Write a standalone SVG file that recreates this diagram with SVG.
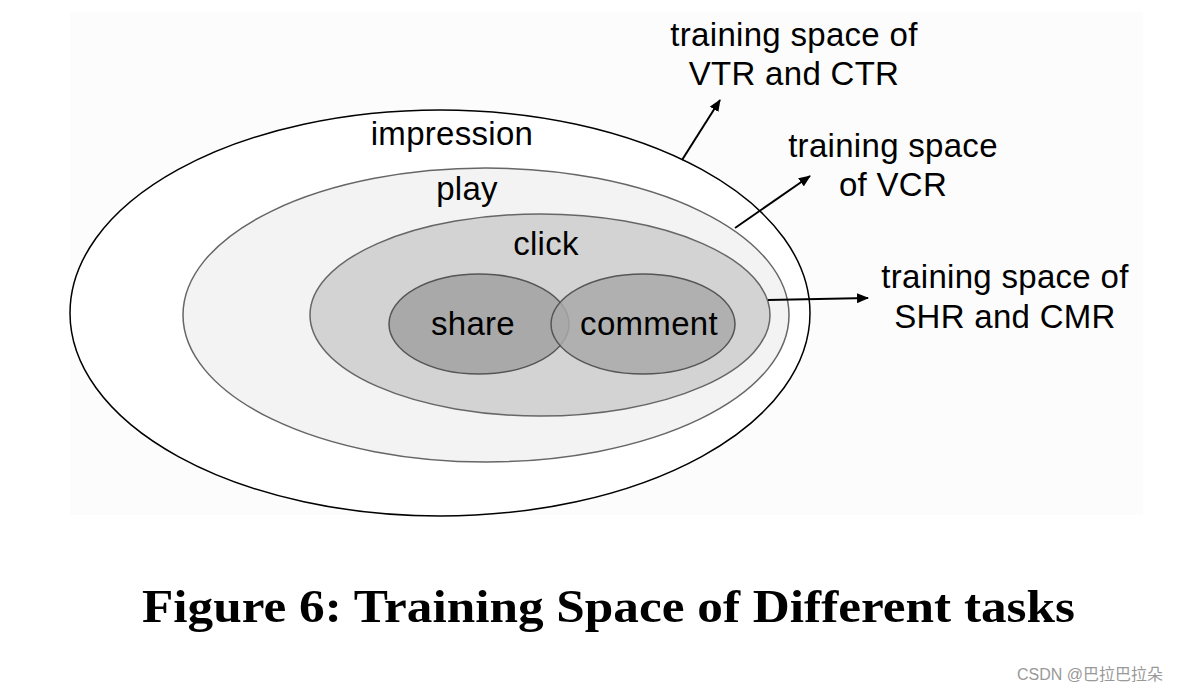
<svg xmlns="http://www.w3.org/2000/svg" width="1178" height="692" viewBox="0 0 1178 692">
<defs>
<marker id="ah" markerWidth="12" markerHeight="10" refX="11" refY="5" orient="auto" markerUnits="userSpaceOnUse"><path d="M0,0 L12,5 L0,10 z" fill="#000"/></marker>
<style>
.t{font-family:"Liberation Sans",Arial,sans-serif;font-size:33px;fill:#000;text-anchor:middle;letter-spacing:0.3px}
.c{stroke:#000;stroke-width:2;marker-end:url(#ah)}
</style>
</defs>
<rect width="1178" height="692" fill="#fff"/>
<rect x="70" y="12" width="1073" height="503" fill="#fcfcfc"/>
<g id="impression"><ellipse cx="440" cy="313" rx="370" ry="203" fill="#fff" stroke="#000" stroke-width="1.5"/><text class="t" x="452" y="145">impression</text></g>
<g id="play"><ellipse cx="486" cy="315" rx="303" ry="147" fill="#f3f3f3" stroke="#666" stroke-width="1.5"/><text class="t" x="467" y="200">play</text></g>
<g id="click"><ellipse cx="540" cy="315" rx="230" ry="101" fill="#d3d3d3" stroke="#666" stroke-width="1.5"/><text class="t" x="546" y="255">click</text></g>
<g id="share"><ellipse cx="479" cy="324" rx="90" ry="50" fill="#a9a9a9" stroke="#555" stroke-width="1.5"/><text class="t" x="473" y="335">share</text></g>
<g id="comment"><ellipse cx="643" cy="324" rx="92" ry="50" fill="#a9a9a9" fill-opacity="0.85" stroke="#555" stroke-width="1.5"/><text class="t" x="649" y="335">comment</text></g>
<g id="connectors">
<line class="c" x1="682" y1="160" x2="720" y2="100"/>
<line class="c" x1="735" y1="228" x2="810" y2="176"/>
<line class="c" x1="768" y1="300" x2="868" y2="298"/>
</g>
<g id="label1"><text class="t" x="794" y="46">training space of</text><text class="t" x="794" y="85">VTR and CTR</text></g>
<g id="label2"><text class="t" x="893" y="157">training space</text><text class="t" x="893" y="196">of VCR</text></g>
<g id="label3"><text class="t" x="1005" y="288">training space of</text><text class="t" x="1005" y="328">SHR and CMR</text></g>
<text x="142" y="622" textLength="933" lengthAdjust="spacingAndGlyphs" font-family="Liberation Serif,serif" font-weight="bold" font-size="46">Figure 6: Training Space of Different tasks</text>
<text x="1163" y="680" font-family="Liberation Sans,Noto Sans CJK SC,sans-serif" font-size="16" fill="#999" text-anchor="end">CSDN @巴拉巴拉朵</text>
</svg>
